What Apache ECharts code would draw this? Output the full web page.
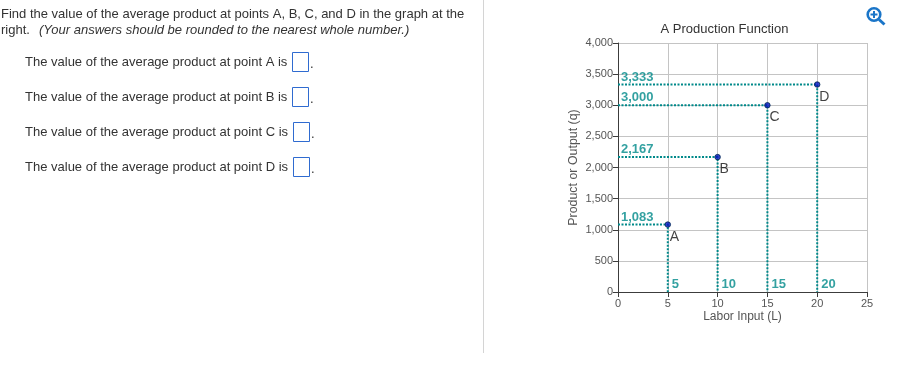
<!DOCTYPE html>
<html>
<head>
<meta charset="utf-8">
<style>
  html, body { margin: 0; padding: 0; background: #fff; }
  #chart { width: 898px; height: 369px; }
</style>
<script src="https://cdn.jsdelivr.net/npm/echarts@6/dist/echarts.min.js"></script>
</head>
<body>
<div id="chart"></div>
<script>
const pointNames = ['A', 'B', 'C', 'D']
const laborInput = [5, 10, 15, 20]
const output = [1083, 2167, 3000, 3333]
const questionLines = [
  'The value of the average product at point A is',
  'The value of the average product at point B is',
  'The value of the average product at point C is',
  'The value of the average product at point D is'
]

const font = '"Liberation Sans", Arial, sans-serif'
const teal = '#00898a'
const comma = v => String(v).replace(/\B(?=(\d{3})+$)/g, ',')

const chart = echarts.init(document.getElementById('chart'), null, { renderer: 'canvas' })

// dotted guides from both axes to each point
const guideSeries = pointNames.map((name, i) => ({
  type: 'line',
  silent: true,
  symbol: 'none',
  z: 3,
  lineStyle: { color: teal, width: 2, type: [2, 1.5] },
  data: [[0, output[i]], [laborInput[i], output[i]], [laborInput[i], 0]]
}))

const textEl = (x, y, text, extra) => ({
  type: 'text',
  x, y,
  style: Object.assign({ text, font: '13px ' + font, fill: '#333', textVerticalAlign: 'middle' }, extra)
})

const questionEls = []
const boxX = [292, 292, 293, 293]
const rowY = [62, 97, 132, 167]
questionLines.forEach((line, i) => {
  questionEls.push(textEl(25, rowY[i], line))
  questionEls.push({
    type: 'rect',
    shape: { x: boxX[i] + 0.5, y: rowY[i] - 9.5, width: 16, height: 19 },
    style: { fill: '#fff', stroke: '#2f6bd0', lineWidth: 1 }
  })
  questionEls.push(textEl(boxX[i] + 18, rowY[i] + 2, '.'))
})

chart.setOption({
  animation: false,
  textStyle: { fontFamily: font },
  grid: { left: 618, right: 31, top: 43, height: 249 },
  xAxis: {
    type: 'value',
    min: 0,
    max: 25,
    interval: 5,
    name: 'Labor Input (L)',
    nameLocation: 'middle',
    nameGap: 19,
    nameMoveOverlap: false,
    nameTextStyle: { color: '#555', fontSize: 12 },
    axisLine: { show: true, onZero: false, lineStyle: { color: '#3c3c3c', width: 1 } },
    axisTick: { show: true, length: 5, lineStyle: { color: '#3c3c3c' } },
    axisLabel: { color: '#555', fontSize: 11, margin: 6 },
    splitLine: { show: true, showMinLine: false, lineStyle: { color: '#c4c4c4', width: 1 } }
  },
  yAxis: {
    type: 'value',
    min: 0,
    max: 4000,
    interval: 500,
    name: 'Product or Output (q)',
    nameLocation: 'middle',
    nameGap: 38,
    nameMoveOverlap: false,
    nameTextStyle: { color: '#555', fontSize: 12.4 },
    axisLine: { show: true, onZero: false, lineStyle: { color: '#3c3c3c', width: 1 } },
    axisTick: { show: true, length: 5, lineStyle: { color: '#3c3c3c' } },
    axisLabel: { color: '#555', fontSize: 11, margin: 5, padding: [2, 0, 0, 0], formatter: comma },
    splitLine: { show: true, showMinLine: false, lineStyle: { color: '#c4c4c4', width: 1 } }
  },
  series: guideSeries.concat([
    {
      // points with their letter
      type: 'scatter',
      z: 5,
      symbolSize: 5.5,
      itemStyle: { color: '#0010c0', borderColor: '#002a50', borderWidth: 1 },
      label: {
        show: true,
        position: 'bottom',
        align: 'left',
        offset: [2, -3],
        color: '#111',
        fontSize: 14,
        formatter: p => pointNames[p.dataIndex]
      },
      data: laborInput.map((x, i) => [x, output[i]])
    },
    {
      // output values next to the y axis
      type: 'scatter',
      z: 4,
      symbolSize: 0,
      label: {
        show: true,
        position: 'top',
        align: 'left',
        offset: [3, 4],
        color: teal,
        fontSize: 13,
        fontWeight: 'bold',
        formatter: p => comma(p.value[1])
      },
      data: output.map(y => [0, y])
    },
    {
      // labor values next to the x axis
      type: 'scatter',
      z: 4,
      symbolSize: 0,
      label: {
        show: true,
        position: 'top',
        align: 'left',
        offset: [4, 4],
        color: teal,
        fontSize: 13,
        fontWeight: 'bold',
        formatter: p => String(p.value[0])
      },
      data: laborInput.map(x => [x, 0])
    }
  ]),
  graphic: [
    textEl(1, 14, 'Find the value of the average product at points A, B, C, and D in the graph at the'),
    textEl(1, 30, 'right.'),
    textEl(39, 30, '(Your answers should be rounded to the nearest whole number.)', { font: 'italic 13px ' + font }),
    textEl(724.5, 29, 'A Production Function', { textAlign: 'center' }),
    {
      type: 'line',
      shape: { x1: 483.5, y1: 0, x2: 483.5, y2: 353 },
      style: { stroke: '#d4d4d4', lineWidth: 1 }
    },
    // zoom icon
    {
      type: 'circle',
      shape: { cx: 874, cy: 14.5, r: 6.3 },
      style: { fill: '#fff', stroke: '#1a75c8', lineWidth: 2.6 }
    },
    {
      type: 'line',
      shape: { x1: 879, y1: 19.5, x2: 884.5, y2: 24.5 },
      style: { stroke: '#1a75c8', lineWidth: 3 }
    },
    {
      type: 'line',
      shape: { x1: 870.5, y1: 14.5, x2: 877.5, y2: 14.5 },
      style: { stroke: '#1a75c8', lineWidth: 2 }
    },
    {
      type: 'line',
      shape: { x1: 874, y1: 11, x2: 874, y2: 18 },
      style: { stroke: '#1a75c8', lineWidth: 2 }
    }
  ].concat(questionEls)
})
</script>
</body>
</html>
